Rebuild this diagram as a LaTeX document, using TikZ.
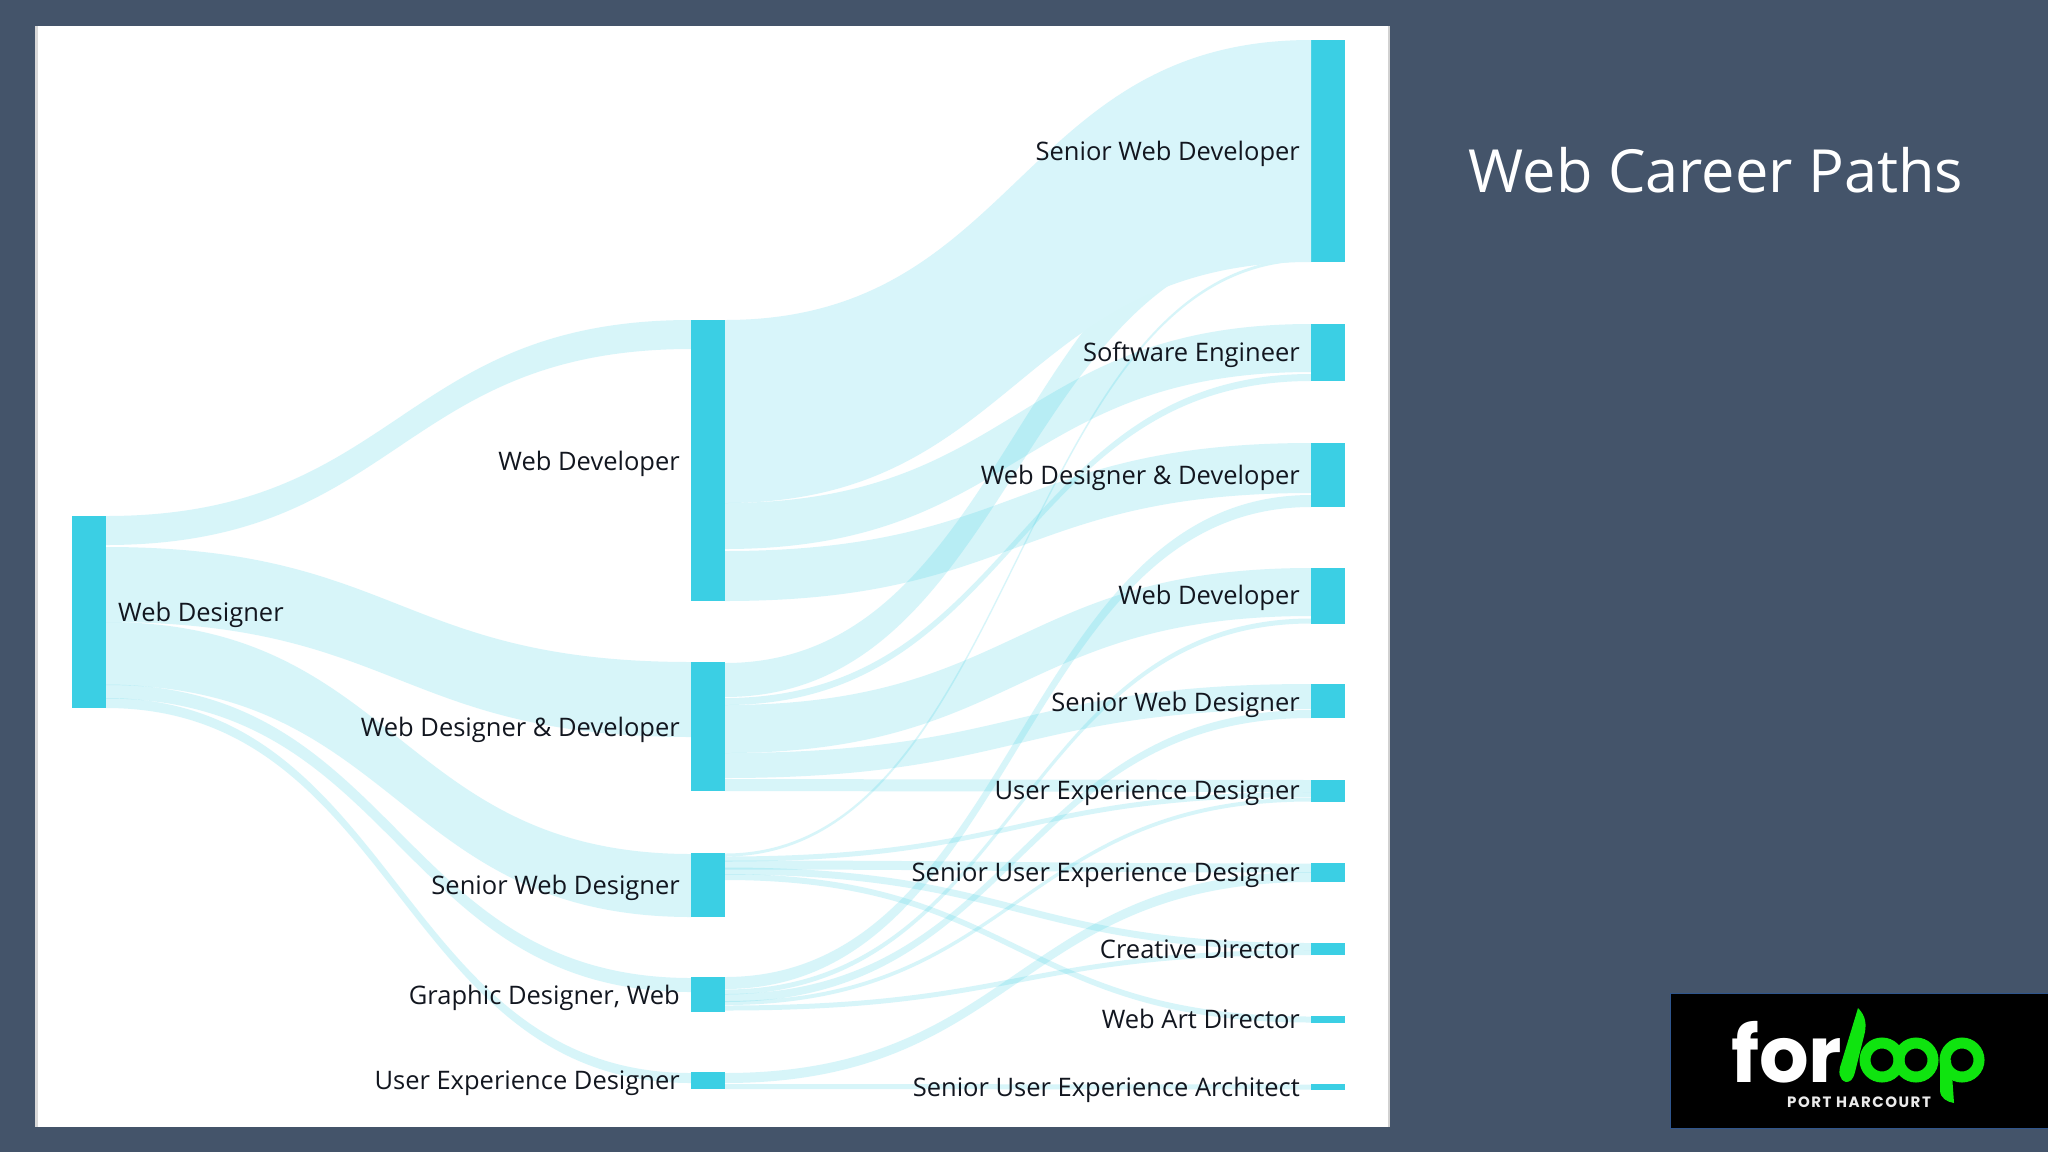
\documentclass[tikz,border=0pt]{standalone}
\usepackage{fontspec}
\setmainfont{Open Sans}
\newfontfamily\logofont{Poppins}
\usetikzlibrary{calc}
\definecolor{slate}{HTML}{44546A}
\definecolor{barcyan}{HTML}{3BCFE4}
\definecolor{paleflow}{HTML}{D8F5FA}
\definecolor{inkc}{HTML}{12161F}
\definecolor{logogreen}{HTML}{0FE40F}
\tikzset{
  sbar/.style={fill=barcyan,draw=none,inner sep=0pt,outer sep=0pt,minimum width=34pt},
  ribbon/.style={fill=barcyan,fill opacity=.2,draw=none},
  solidribbon/.style={fill=paleflow,draw=none},
  lab/.style={inner sep=0pt,text=inkc,font=\fontsize{25.5}{30}\selectfont},
  labr/.style={lab,anchor=east},
  labl/.style={lab,anchor=west},
}
% name, x left, y top, y bottom
\newcommand{\sknode}[4]{\node[sbar,minimum height={(#4-#3)*1pt}] (#1) at ({#2+17},{(#3+#4)/2}) {};}
% style, source, source top, source bottom, target, target top, target bottom
\newcommand{\flowb}[7]{\fill[#1] (#2.east |- 0,#3) .. controls +(292.5,0) and +(-292.5,0) .. (#5.west |- 0,#6) -- (#5.west |- 0,#7) .. controls +(-292.5,0) and +(292.5,0) .. (#2.east |- 0,#4) -- cycle;}
% source, source centre y, target, target centre y, thickness (measured vertically)
\newcommand{\flowa}[5]{\flowb{ribbon}{#1}{#2-#5/2}{#2+#5/2}{#3}{#4-#5/2}{#4+#5/2}}
\begin{document}
\begin{tikzpicture}[x=1pt,y=-1pt]
\useasboundingbox (0,0) rectangle (2048,1152);
\fill[slate] (0,0) rectangle (2048,1152);
\fill[white] (35,26) rectangle (1390,1127);
\fill[black!15] (35,26) rectangle (38,1127);
\fill[black!18] (1388,26) rectangle (1390,1127);

% column 1
\sknode{a}{72}{516}{708}
% column 2
\sknode{b1}{691}{320}{601}
\sknode{b2}{691}{662}{791}
\sknode{b3}{691}{853}{917}
\sknode{b4}{691}{977}{1012}
\sknode{b5}{691}{1072}{1089}
% column 3
\sknode{c1}{1311}{40}{262}
\sknode{c2}{1311}{324}{381}
\sknode{c3}{1311}{443}{507}
\sknode{c4}{1311}{568}{624}
\sknode{c5}{1311}{684}{718}
\sknode{c6}{1311}{780}{802}
\sknode{c7}{1311}{863}{882}
\sknode{c8}{1311}{943}{955}
\sknode{c9}{1311}{1016}{1023}
\sknode{c10}{1311}{1084}{1090}

% flows column 1 -> 2
\flowa{a}{530.5}{b1}{334.5}{29}
\flowa{a}{584.5}{b2}{699.5}{75}
\flowa{a}{653.5}{b3}{885.5}{63}
\flowa{a}{691.5}{b4}{985}{14}
\flowa{a}{703}{b5}{1078}{10}

% flows column 2 -> 3
\flowb{ribbon}{b2}{663}{697}{c1}{196}{240}
\flowa{b3}{855}{c1}{259.5}{3}
\flowb{solidribbon}{b1}{320}{503}{c1}{40}{262}
\flowb{ribbon}{b1}{503}{549}{c2}{324}{372}
\flowa{b1}{576}{c3}{468}{50}
\flowa{b2}{701.5}{c2}{377.5}{7}
\flowa{b2}{729}{c4}{592}{48}
\flowa{b2}{765.5}{c5}{696.5}{25}
\flowa{b2}{785}{c6}{786}{12}
\flowa{b3}{859}{c6}{794.5}{5}
\flowa{b3}{865}{c7}{868}{9}
\flowa{b3}{871}{c8}{946.5}{7}
\flowa{b3}{877}{c9}{1019.5}{6}
\flowa{b4}{983}{c3}{501}{12}
\flowa{b4}{992}{c4}{621}{5}
\flowa{b4}{998}{c5}{714}{8}
\flowa{b4}{1003}{c6}{799.5}{4}
\flowa{b4}{1008}{c8}{952.5}{5}
\flowa{b5}{1078}{c7}{877}{10}
\flowa{b5}{1086.5}{c10}{1087}{5}

% labels
\node[labl] (la) at (118,614.6) {Web Designer};
\node[labr] (lb1) at (680,463.6) {Web Developer};
\node[labr] (lb2) at (680,729.6) {Web Designer \& Developer};
\node[labr] (lb3) at (680,887.6) {Senior Web Designer};
\node[labr] (lb4) at (680,997.6) {Graphic Designer, Web};
\node[labr] (lb5) at (680,1083.6) {User Experience Designer};
\node[labr] (lc1) at (1300,153.6) {Senior Web Developer};
\node[labr] (lc2) at (1300,354.6) {Software Engineer};
\node[labr] (lc3) at (1300,477.6) {Web Designer \& Developer};
\node[labr] (lc4) at (1300,598) {Web Developer};
\node[labr] (lc5) at (1300,704.6) {Senior Web Designer};
\node[labr] (lc6) at (1300,793.6) {User Experience Designer};
\node[labr] (lc7) at (1300,875.6) {Senior User Experience Designer};
\node[labr] (lc8) at (1300,949) {Creative Director};
\node[labr] (lc9) at (1300,1019) {Web Art Director};
\node[labr] (lc10) at (1300,1089.6) {Senior User Experience Architect};

% title
\node[text=white,inner sep=0pt,font=\fontsize{59.5}{70}\selectfont] (title) at (1716,170) {Web Career Paths};

% logo
\fill[black,draw={rgb,255:red,47;green,85;blue,140},line width=1pt] (1670,993) rectangle (2048,1128);
\node[text=white,inner sep=0pt,anchor=base west,font=\logofont\bfseries\fontsize{78}{80}\selectfont] (for) at (1731,1082) {for};
\node[text=black!8,inner sep=0pt,font=\logofont\bfseries\fontsize{15}{18}\selectfont\addfontfeatures{LetterSpace=10}] (ph) at (1859,1102) {PORT HARCOURT};
\fill[logogreen] (1858,1008) .. controls (1866,1016) and (1867,1025) .. (1864,1036)
  -- (1855,1072) .. controls (1853,1080) and (1850,1082) .. (1846,1082)
  .. controls (1839,1080) and (1838,1072) .. (1841,1064) -- cycle;
\draw[logogreen,line width=11pt] (1882,1060) circle (17);
\draw[logogreen,line width=11pt] (1916,1060) circle (17);
\draw[logogreen,line width=11pt] (1962,1060) circle (17);
\fill[logogreen] (1940,1060) -- (1951,1060) -- (1954,1103) .. controls (1947,1102) and (1940,1098) .. (1940,1090) -- cycle;
\end{tikzpicture}
\end{document}
